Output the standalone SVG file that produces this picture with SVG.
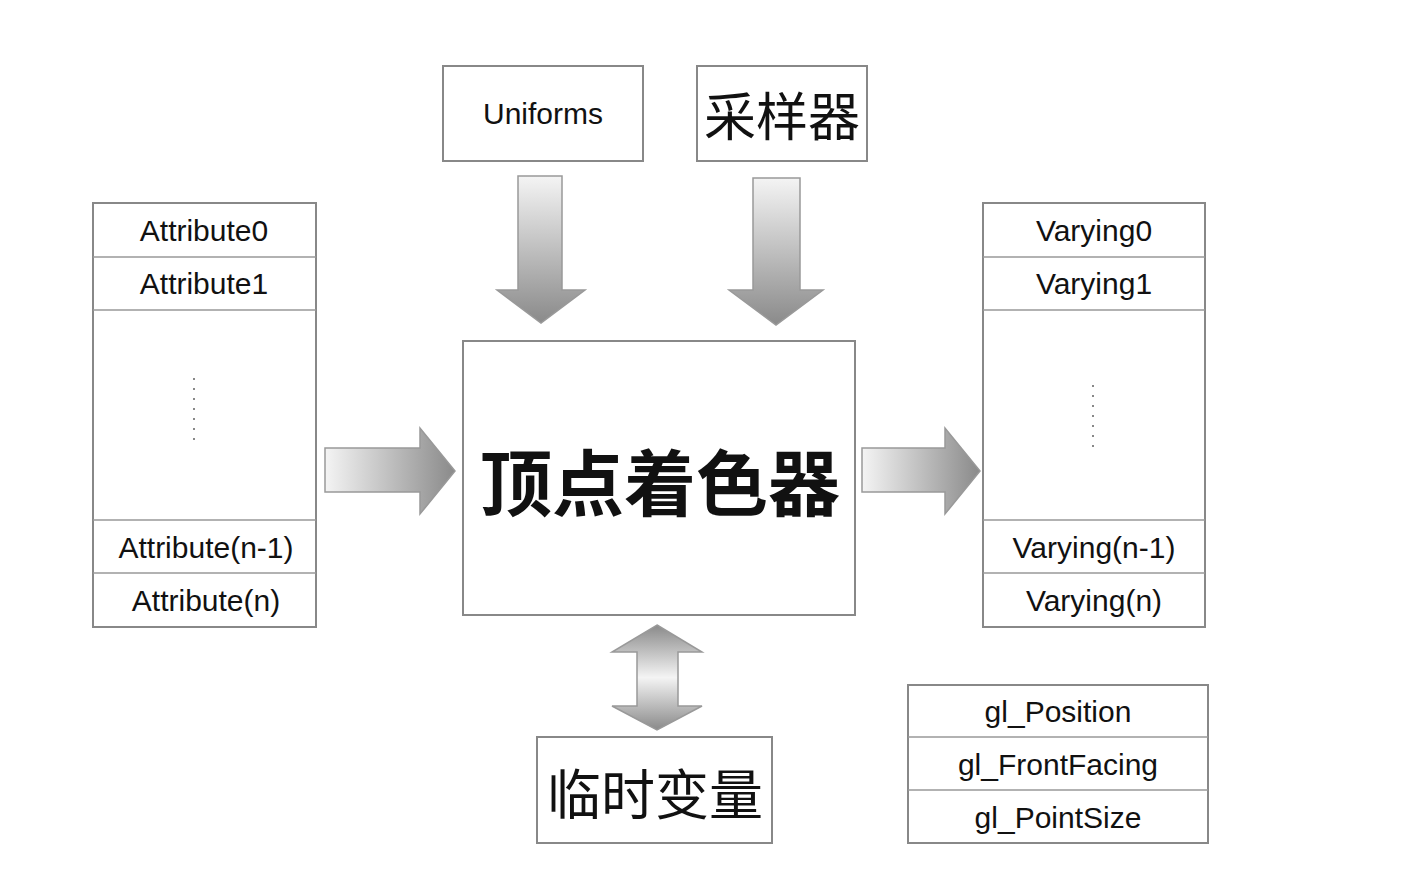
<svg xmlns="http://www.w3.org/2000/svg" width="1405" height="888" viewBox="0 0 1405 888">
<defs>
<linearGradient id="gv" x1="0" y1="0" x2="0" y2="1"><stop offset="0" stop-color="#f4f4f4"/><stop offset="1" stop-color="#8a8a8a"/></linearGradient>
<linearGradient id="gh" x1="0" y1="0" x2="1" y2="0"><stop offset="0" stop-color="#f4f4f4"/><stop offset="1" stop-color="#8a8a8a"/></linearGradient>
<linearGradient id="gd" x1="0" y1="0" x2="0" y2="1"><stop offset="0" stop-color="#8a8a8a"/><stop offset="0.5" stop-color="#f4f4f4"/><stop offset="1" stop-color="#8a8a8a"/></linearGradient>
</defs>
<style>
.b{fill:#fff;stroke:#888;stroke-width:2}
.t{font-family:"Liberation Sans","Noto Sans CJK SC",sans-serif;fill:#111;text-anchor:middle}
.s{font-size:30px}
.d{stroke:#888;stroke-width:2;stroke-dasharray:2 8}
.a{stroke:#999;stroke-width:1.5}
</style>
<rect width="1405" height="888" fill="#fff"/>
<g id="uniforms"><rect class="b" x="443" y="66" width="200" height="95"/><text class="t s" x="543" y="124">Uniforms</text></g>
<g id="sampler"><rect class="b" x="697" y="66" width="170" height="95"/><text class="t" x="782" y="136" font-size="52">采样器</text></g>
<g id="shader"><rect class="b" x="463" y="341" width="392" height="274"/><text class="t" x="660" y="510" font-size="72" font-weight="bold">顶点着色器</text></g>
<g id="attributes">
<rect class="b" x="93" y="203" width="223" height="424"/>
<line class="a" x1="93" y1="257" x2="316" y2="257"/><line class="a" x1="93" y1="310" x2="316" y2="310"/>
<line class="a" x1="93" y1="520" x2="316" y2="520"/><line class="a" x1="93" y1="573" x2="316" y2="573"/>
<text class="t s" x="204" y="241">Attribute0</text><text class="t s" x="204" y="294">Attribute1</text>
<line class="d" x1="194" y1="378" x2="194" y2="445"/>
<text class="t s" x="206" y="558">Attribute(n-1)</text><text class="t s" x="206" y="611">Attribute(n)</text>
</g>
<g id="varyings">
<rect class="b" x="983" y="203" width="222" height="424"/>
<line class="a" x1="983" y1="257" x2="1205" y2="257"/><line class="a" x1="983" y1="310" x2="1205" y2="310"/>
<line class="a" x1="983" y1="520" x2="1205" y2="520"/><line class="a" x1="983" y1="573" x2="1205" y2="573"/>
<text class="t s" x="1094" y="241">Varying0</text><text class="t s" x="1094" y="294">Varying1</text>
<line class="d" x1="1093" y1="385" x2="1093" y2="455"/>
<text class="t s" x="1094" y="558">Varying(n-1)</text><text class="t s" x="1094" y="611">Varying(n)</text>
</g>
<g id="temp"><rect class="b" x="537" y="737" width="235" height="106"/><text class="t" x="655" y="815" font-size="54">临时变量</text></g>
<g id="builtins">
<rect class="b" x="908" y="685" width="300" height="158"/>
<line class="a" x1="908" y1="737" x2="1208" y2="737"/><line class="a" x1="908" y1="790" x2="1208" y2="790"/>
<text class="t s" x="1058" y="722">gl_Position</text><text class="t s" x="1058" y="775">gl_FrontFacing</text><text class="t s" x="1058" y="828">gl_PointSize</text>
</g>
<g id="connectors" stroke="#999" stroke-width="1.5">
<path d="M518,176 H562 V290 H585 L541,323 L497,290 H518 Z" fill="url(#gv)"/>
<path d="M753,178 H800 V290 H823 L776,325 L729,290 H753 Z" fill="url(#gv)"/>
<path d="M325,448 H420 V428 L455,471 L420,514 V492 H325 Z" fill="url(#gh)"/>
<path d="M862,448 H945 V428 L980,471 L945,514 V492 H862 Z" fill="url(#gh)"/>
<path d="M657,625 L702,652 H678 V706 H702 L657,730 L612,706 H637 V652 H612 Z" fill="url(#gd)"/>
</g>
</svg>
